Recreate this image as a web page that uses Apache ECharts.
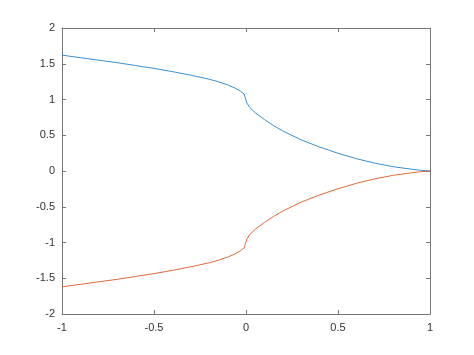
<!DOCTYPE html>
<html><head><meta charset="utf-8">
<script src="https://cdn.jsdelivr.net/npm/echarts@6/dist/echarts.min.js"></script>
<style>html,body{margin:0;padding:0;background:#fff}#c{width:474px;height:355px}</style>
</head><body><div id="c"></div>
<script>
const xValues = [-1, -0.9, -0.8, -0.7, -0.6, -0.5, -0.4, -0.3, -0.25, -0.2, -0.15, -0.1, -0.06, -0.03, -0.01, 0, 0.005, 0.02, 0.05, 0.1, 0.15, 0.2, 0.3, 0.4, 0.5, 0.6, 0.7, 0.8, 0.9, 0.95, 1];
const blueValues = [1.62, 1.585, 1.55, 1.515, 1.475, 1.435, 1.39, 1.34, 1.312, 1.283, 1.248, 1.205, 1.16, 1.115, 1.075, 1.05, 0.95, 0.89, 0.815, 0.72, 0.635, 0.56, 0.435, 0.335, 0.248, 0.172, 0.11, 0.06, 0.025, 0.01, 0];
const redValues = [-1.62, -1.585, -1.55, -1.515, -1.475, -1.435, -1.39, -1.34, -1.312, -1.283, -1.248, -1.205, -1.16, -1.115, -1.075, -1.05, -0.95, -0.89, -0.815, -0.72, -0.635, -0.56, -0.435, -0.335, -0.248, -0.172, -0.11, -0.06, -0.025, -0.01, 0];
const xTicks = [-1, -0.5, 0, 0.5, 1];
const yTicks = [-2, -1.5, -1, -0.5, 0, 0.5, 1, 1.5, 2];

const chart = echarts.init(document.getElementById('c'), null, {renderer: 'canvas'});
const axisCol = '#777';
const lbl = {color: '#333', fontSize: 11, fontFamily: 'Liberation Sans, Arial, sans-serif'};
const common = {
  axisLine: {show: true, onZero: false, lineStyle: {color: axisCol, width: 1}},
  axisTick: {show: true, inside: true, length: 4, lineStyle: {color: axisCol}},
  splitLine: {show: false}
};
chart.setOption({
  animation: false,
  grid: {left: 62, right: 44, top: 28, bottom: 41, containLabel: false},
  xAxis: [
    Object.assign({type: 'value', min: -1, max: 1, interval: 0.5, position: 'bottom',
      axisLabel: Object.assign({margin: 8, formatter: v => String(v)}, lbl)}, common),
    Object.assign({type: 'value', min: -1, max: 1, interval: 0.5, position: 'top',
      axisLabel: {show: false}}, common)
  ],
  yAxis: [
    Object.assign({type: 'value', min: -2, max: 2, interval: 0.5, position: 'left',
      axisLabel: Object.assign({margin: 7, formatter: v => String(v)}, lbl)}, common),
    Object.assign({type: 'value', min: -2, max: 2, interval: 0.5, position: 'right',
      axisLabel: {show: false}}, common)
  ],
  series: [
    {type: 'line', showSymbol: false, smooth: false, data: xValues.map((x, i) => [x, blueValues[i]]),
      lineStyle: {color: '#3a8fd0', width: 1}, itemStyle: {color: '#3a8fd0'}},
    {type: 'line', showSymbol: false, smooth: false, data: xValues.map((x, i) => [x, redValues[i]]),
      lineStyle: {color: '#e0693a', width: 1}, itemStyle: {color: '#e0693a'}}
  ]
});
</script></body></html>
